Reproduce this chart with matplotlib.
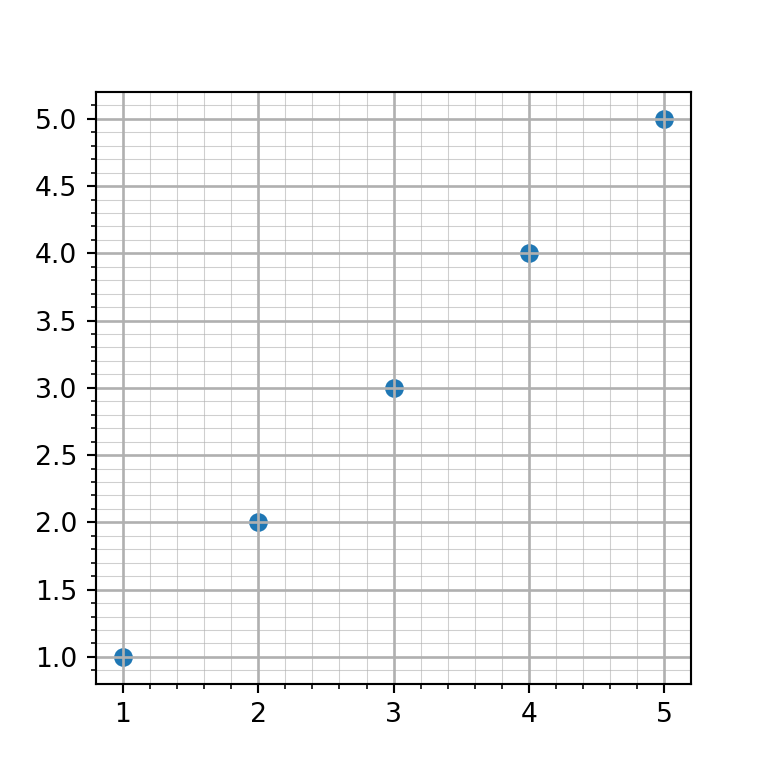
import matplotlib
matplotlib.use("Agg")
import matplotlib.pyplot as plt

# Data
x_values = [1, 2, 3, 4, 5]
y_values = [1, 2, 3, 4, 5]

fig, ax = plt.subplots(figsize=(4, 4), dpi=192)
ax.scatter(x_values, y_values)

# Slightly tighter margins so no minor tick sits on the spine edge
ax.margins(0.0495)

# Major and minor grid
ax.minorticks_on()
ax.grid(which='major', color='#b0b0b0', linewidth=1.0)
ax.grid(which='minor', color='#b0b0b0', linewidth=0.4, alpha=0.6)

fig.savefig("out.png", dpi=192)
